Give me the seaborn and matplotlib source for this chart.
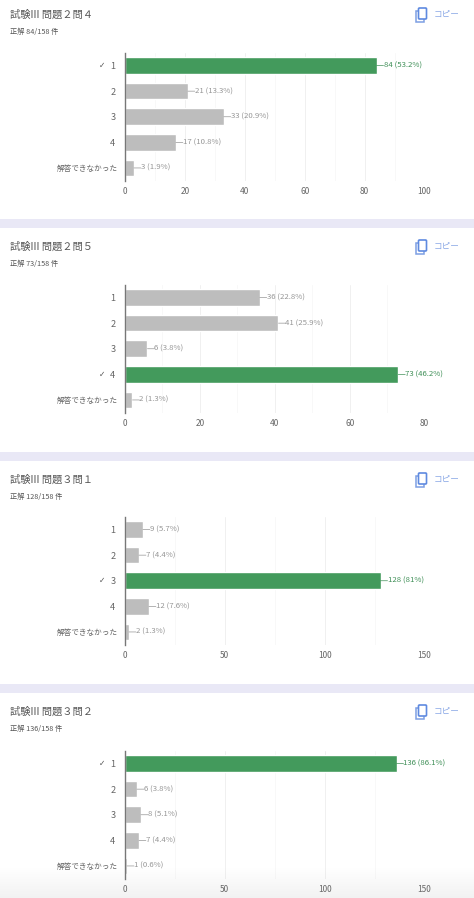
import numpy as np
import pandas as pd
import matplotlib.pyplot as plt
from matplotlib.patches import Rectangle, FancyBboxPatch
from matplotlib.transforms import ScaledTranslation
import seaborn as sns

sns.set_theme(style='white')
plt.rcParams['font.family'] = ['Noto Sans CJK JP', 'DejaVu Sans']

W, H = 474, 898

# dados de cada painel
categories = ['1', '2', '3', '4', '解答できなかった']
titles = ['試験III 問題\uff12問\uff14', '試験III 問題\uff12問\uff15', '試験III 問題\uff13問\uff11', '試験III 問題\uff13問\uff12']
subtitles = ['正解 84/158 件', '正解 73/158 件', '正解 128/158 件', '正解 136/158 件']
counts_a = [84, 21, 33, 17, 3]
counts_b = [36, 41, 6, 73, 2]
counts_c = [9, 7, 128, 12, 2]
counts_d = [136, 6, 8, 7, 1]
labels_a = ['84 (53.2%)', '21 (13.3%)', '33 (20.9%)', '17 (10.8%)', '3 (1.9%)']
labels_b = ['36 (22.8%)', '41 (25.9%)', '6 (3.8%)', '73 (46.2%)', '2 (1.3%)']
labels_c = ['9 (5.7%)', '7 (4.4%)', '128 (81%)', '12 (7.6%)', '2 (1.3%)']
labels_d = ['136 (86.1%)', '6 (3.8%)', '8 (5.1%)', '7 (4.4%)', '1 (0.6%)']
correct = ['1', '4', '3', '1']
xmax = [100, 80, 150, 150]
major = [20, 20, 50, 50]
minor = [10, 10, 25, 25]

# posição vertical (pixels) de cada painel
tops = [53, 285, 517, 751]
title_y = [15, 247, 480, 712]
sub_y = [32, 264, 497, 729]
bands = [(219, 228), (452, 461), (684, 693)]

GREEN = '#439a5c'
GRAY = '#bdbdbd'
LABEL = '#969696'

fig = plt.figure(figsize=(W / 100, H / 100), dpi=100, facecolor='white')

# camada de fundo em pixels
bg = fig.add_axes([0, 0, 1, 1], zorder=0)
bg.set_xlim(0, W)
bg.set_ylim(H, 0)
bg.axis('off')
for y0, y1 in bands:
    bg.add_patch(Rectangle((0, y0), W, y1 - y0, color='#e9e8f6', lw=0))

all_counts = [counts_a, counts_b, counts_c, counts_d]
all_labels = [labels_a, labels_b, labels_c, labels_d]

for i in range(4):
    df = pd.DataFrame({'cat': categories, 'n': all_counts[i]})
    df['ok'] = df['cat'] == correct[i]

    ax = fig.add_axes([125 / W, 1 - (tops[i] + 127.5) / H, 299.5 / W, 127.5 / H], zorder=2)
    ax.patch.set_alpha(0)
    sns.barplot(data=df, y='cat', x='n', hue='ok', palette={True: GREEN, False: GRAY},
                dodge=False, width=0.65, saturation=1, legend=False, ax=ax, zorder=3)
    ax.set_xlim(0, xmax[i])
    ax.set_ylim(4.49, -0.49)
    ax.set_xlabel('')
    ax.set_ylabel('')

    ax.set_xticks(np.arange(0, xmax[i] + 1, major[i]))
    ax.set_xticks(np.arange(0, xmax[i] + 1, minor[i]), minor=True)
    ax.grid(True, axis='x', which='major', color='#f0f0f0', lw=0.7, zorder=0)
    ax.grid(True, axis='x', which='minor', color='#f7f7f7', lw=0.6, zorder=0)
    ax.tick_params(axis='x', which='both', length=0, labelsize=6, labelcolor='#666666', pad=5)
    ax.tick_params(axis='y', length=0, labelsize=6.6, labelcolor='#666666', pad=5.5)
    ax.set_yticks(range(5))
    ax.set_yticklabels(categories)
    ax.get_yticklabels()[4].set_fontsize(5.5)
    # os números ficam um pouco mais à esquerda que o texto longo
    for t in ax.get_yticklabels()[:4]:
        t.set_transform(t.get_transform() + ScaledTranslation(-2 / 100, 0, fig.dpi_scale_trans))

    # marca de resposta certa à esquerda do número
    ok_pos = categories.index(correct[i])
    ax.annotate('✓', xy=(0, ok_pos), xytext=(-14, 0), textcoords='offset points',
                va='center', ha='right', fontsize=5.5, color='#555555',
                family=['DejaVu Sans'])

    for s in ['top', 'right', 'bottom']:
        ax.spines[s].set_visible(False)
    ax.spines['left'].set_color('#777777')
    ax.spines['left'].set_linewidth(1.0)
    ax.spines['left'].set_zorder(5)

    # rótulos com linha de ligação
    for j, (n, lab) in enumerate(zip(all_counts[i], all_labels[i])):
        col = '#3f8f57' if categories[j] == correct[i] else LABEL
        ax.annotate(lab, xy=(n, j), xytext=(5, 0), textcoords='offset points',
                    va='center', ha='left', fontsize=5.6, color=col,
                    arrowprops=dict(arrowstyle='-', color=col, lw=0.5, shrinkA=0, shrinkB=0,
                                    relpos=(0, 0.5), patchA=None))

    # título, subtítulo e botão de copiar
    bg.text(10, title_y[i], titles[i], fontsize=7.4, color='#555555', va='center', ha='left')
    bg.text(10, sub_y[i], subtitles[i], fontsize=5.2, color='#555555', va='center', ha='left')
    bg.add_patch(Rectangle((416, title_y[i] - 4), 8, 10.5, fill=False, ec='#7d9fe3', lw=1.1))
    bg.add_patch(FancyBboxPatch((418.5, title_y[i] - 7), 8, 11, boxstyle='round,pad=0,rounding_size=1',
                                fc='white', ec='#5f8ae0', lw=1.2, zorder=3))
    bg.text(447, title_y[i] - 1, 'コピー', fontsize=6.2, color='#8aa8e6', va='center', ha='center')

# esmaecimento na parte de baixo
fade = fig.add_axes([0, 0, 1, 30 / H], zorder=3)
rgba = np.zeros((64, 1, 4))
rgba[..., :3] = 0.5
rgba[..., 3] = np.linspace(0, 0.10, 64).reshape(-1, 1)
fade.imshow(rgba, aspect='auto', origin='upper', extent=(0, 1, 0, 1))
fade.axis('off')

fig.savefig('out.png', dpi=100)
